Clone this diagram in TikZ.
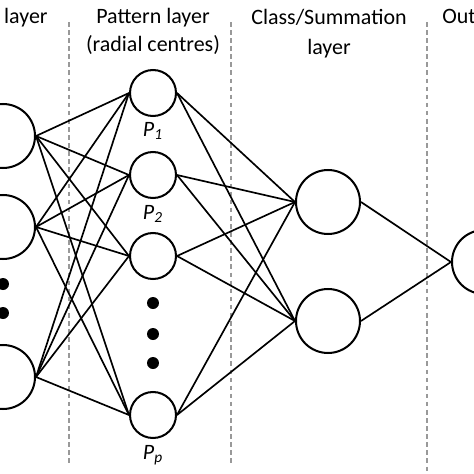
\documentclass[tikz,border=0pt]{standalone}
\usepackage{fontspec}
\setmainfont{Carlito}
\usepackage{tikz}
\usetikzlibrary{calc,positioning}

\begin{document}
\begin{tikzpicture}[x=0.02cm,y=-0.02cm,
        neuron/.style={draw,circle,line width=1.15pt,minimum size=1.28cm,inner sep=0pt},
        small neuron/.style={neuron,minimum size=0.92cm},
        link/.style={line width=0.95pt},
        sep/.style={gray!80,line width=0.6pt,dash pattern=on 2.6pt off 2pt},
        title/.style={font=\fontsize{12.5}{14}\selectfont,inner sep=0pt},
        dot/.style={fill,circle,inner sep=0pt,minimum size=0.24cm}]
								\useasboundingbox (0,0) rectangle (474,474);

								% layer separators
								\draw[sep] (69,22) -- (69,465);
								\draw[sep] (231,22) -- (231,465);
								\draw[sep] (427,22) -- (427,474);

								% headings
								\node[title,anchor=base east] (inlab) at (48,23) {Input layer};
								\node[title,anchor=base] (patlab) at (153,23) {Pattern layer};
								\node[title,anchor=base] (patsub) at (153,51) {(radial centres)};
								\node[title,anchor=base] (clslab) at (329,24) {Class/Summation};
								\node[title,anchor=base] (clssub) at (329,54) {layer};
								\node[title,anchor=base west] (outlab) at (442,23) {Output layer};

								% input layer
								\node[neuron] (in1) at (3,136) {};
								\node[neuron] (in2) at (3,227) {};
								\node[neuron] (in3) at (3,377) {};
								\node[dot] (ind1) at (3,284) {};
								\node[dot] (ind2) at (3,313) {};

								% pattern layer
								\node[small neuron] (p1) at (153,93) {};
								\node[small neuron] (p2) at (153,175) {};
								\node[small neuron] (p3) at (153,256) {};
								\node[small neuron] (pp) at (153,415) {};
								\node[dot] (pd1) at (153,303) {};
								\node[dot] (pd2) at (153,334) {};
								\node[dot] (pd3) at (153,363) {};
								\node[title,anchor=base] (p1lab) at (153,136) {\itshape P\textsubscript{1}};
								\node[title,anchor=base] (p2lab) at (153,219) {\itshape P\textsubscript{2}};
								\node[title,anchor=base] (pplab) at (153,459) {\itshape P\textsubscript{p}};

								% class layer
								\node[neuron] (c1) at (328,202) {};
								\node[neuron] (c2) at (328,321) {};

								% output layer
								\node[neuron] (out) at (484,262) {};

								% connections
								\foreach \i in {in1,in2,in3}
								  \foreach \p in {p1,p2,p3,pp}
								    \draw[link] (\i.east) -- (\p.west);
								\foreach \p in {p1,p2,p3,pp}
								  \foreach \c in {c1,c2}
								    \draw[link] (\p.east) -- (\c.west);
								\foreach \c in {c1,c2}
								  \draw[link] (\c.east) -- (out.west);
\end{tikzpicture}
\end{document}
